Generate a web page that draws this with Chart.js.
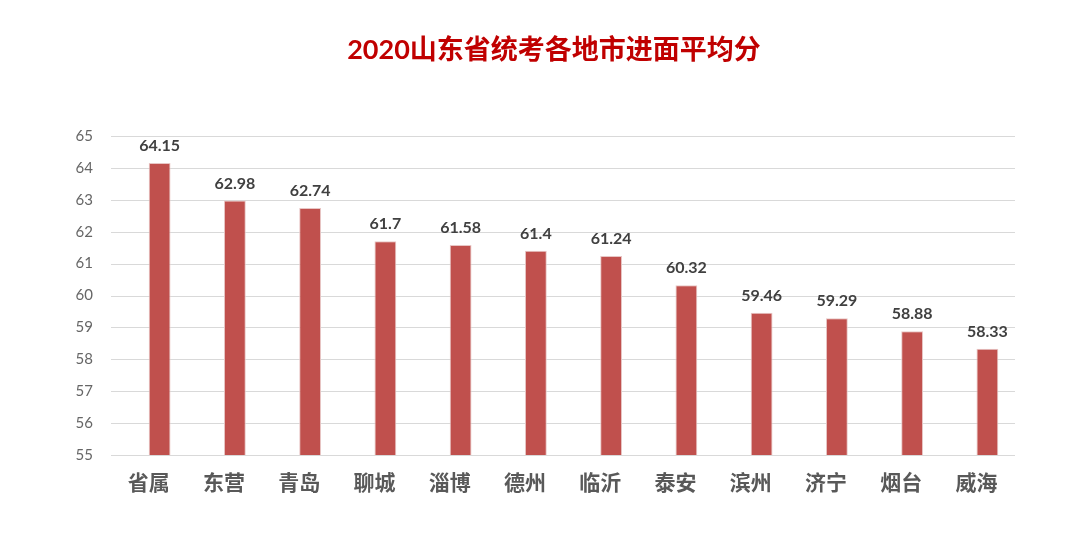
<!DOCTYPE html>
<html>
<head>
<meta charset="utf-8">
<script src="https://cdn.jsdelivr.net/npm/chart.js@4/dist/chart.umd.min.js"></script>
<style>
    html, body { margin: 0; padding: 0; background: #ffffff; }
    #wrap { width: 1080px; height: 540px; }
</style>
</head>
<body>
<div id="wrap"><canvas id="barChart" width="1080" height="540"></canvas></div>
<script>
// chart data
const chartTitle = '2020山东省统考各地市进面平均分';
const cities = ['省属', '东营', '青岛', '聊城', '淄博', '德州', '临沂', '泰安', '滨州', '济宁', '烟台', '威海'];
const avgScores = [64.15, 62.98, 62.74, 61.7, 61.58, 61.4, 61.24, 60.32, 59.46, 59.29, 58.88, 58.33];
const yTicks = [55, 56, 57, 58, 59, 60, 61, 62, 63, 64, 65];

// title drawn a bit right of centre, like the original
const titlePlugin = {
    id: 'titleText',
    afterDraw(chart) {
        const ctx = chart.ctx;
        ctx.save();
        ctx.font = "bold 27px Lato, 'Noto Sans CJK SC', sans-serif";
        ctx.fillStyle = '#C00000';
        ctx.textAlign = 'center';
        ctx.textBaseline = 'middle';
        ctx.fillText(chartTitle, 554, 50);
        ctx.restore();
    }
};

// horizontal grid lines, shifted left like the excel plot area
const gridPlugin = {
    id: 'hGrid',
    beforeDatasetsDraw(chart) {
        const ctx = chart.ctx;
        const y = chart.scales.y;
        const area = chart.chartArea;
        ctx.save();
        ctx.strokeStyle = '#d9d9d9';
        ctx.lineWidth = 1;
        yTicks.forEach(function (v) {
            const py = Math.round(y.getPixelForValue(v)) + 0.5;
            ctx.beginPath();
            ctx.moveTo(area.left - 11, py);
            ctx.lineTo(area.right - 10, py);
            ctx.stroke();
        });
        ctx.restore();
    }
};

// value labels above the bars
const valueLabels = {
    id: 'valueLabels',
    afterDatasetsDraw(chart) {
        const ctx = chart.ctx;
        const meta = chart.getDatasetMeta(0);
        ctx.save();
        ctx.font = "bold 16px Lato, 'Noto Sans', sans-serif";
        ctx.fillStyle = '#404040';
        ctx.textAlign = 'center';
        ctx.textBaseline = 'middle';
        meta.data.forEach(function (bar, i) {
            ctx.fillText(String(avgScores[i]), bar.x, bar.y - 17);
        });
        ctx.restore();
    }
};

const ctx = document.getElementById('barChart').getContext('2d');
const barChart = new Chart(ctx, {
    type: 'bar',
    data: {
        labels: cities,
        datasets: [{
            data: avgScores,
            backgroundColor: '#C0504D',
            borderColor: '#E8C6C5',
            borderWidth: 1,
            barPercentage: 0.58,
            categoryPercentage: 0.5
        }]
    },
    options: {
        responsive: false,
        animation: false,
        layout: {
            padding: { top: 136, right: 55, bottom: 0, left: 0 }
        },
        plugins: {
            legend: { display: false },
            title: { display: false },
            tooltip: { enabled: false }
        },
        scales: {
            x: {
                grid: { display: false },
                border: { display: false },
                ticks: {
                    color: '#595959',
                    padding: 6,
                    labelOffset: -11,
                    font: { family: "'Noto Sans CJK SC', sans-serif", size: 21, weight: 'bold' }
                },
                afterFit(scale) { scale.height = 85; }
            },
            y: {
                min: 55,
                max: 65,
                grid: { display: false },
                border: { display: false },
                ticks: {
                    stepSize: 1,
                    color: '#666666',
                    padding: 21,
                    font: { family: "Lato, 'Open Sans', sans-serif", size: 15 }
                },
                afterFit(scale) { scale.width = 122; }
            }
        }
    },
    plugins: [gridPlugin, valueLabels, titlePlugin]
});
</script>
</body>
</html>
